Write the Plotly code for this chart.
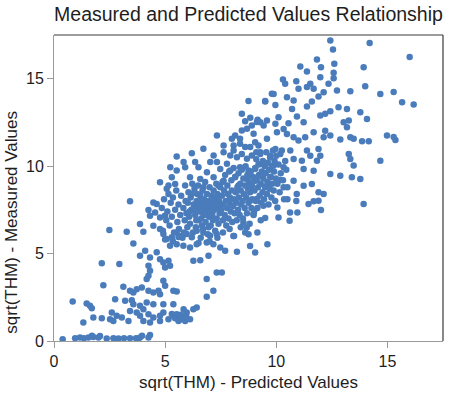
import plotly.graph_objects as go

# ---- data ----
# points near zero measured value
bottom_x = [0.39,0.95,1.17,1.35,1.55,1.71,1.77,2.00,2.07,2.37,2.67,2.75,2.90,3.15,3.42,3.69,3.78,3.87,3.96,4.25,4.32]
bottom_y = [0.10,0.16,0.20,0.16,0.20,0.30,0.23,0.20,0.28,0.14,0.16,0.12,0.14,0.16,0.16,0.16,0.12,0.20,0.30,0.20,0.35]

# lower-left wedge
low_x = [3.87,4.47,4.77,4.92,5.07,5.30,5.52,5.75,5.97,6.20,6.42,6.72,7.02,7.32,5.22,5.52,5.82,6.12,6.42,6.87,7.17,
         2.49,3.27,4.02,3.57,4.10,4.62,3.87,4.32,4.77,4.92,5.15,5.22,5.00,4.25,4.32,4.25,4.17,6.27,6.95,7.32,6.87,
         2.94,2.15,2.22,3.12,3.42,3.72,3.57,3.95,4.25,4.47,4.70,4.77,4.92,5.00,5.37,5.52,2.75,3.20,3.50,3.57,3.87,
         4.17,4.47,4.92,5.37,7.17,6.87,0.84,1.47,1.62,1.70,1.77,2.15,2.52,2.60,2.82,3.05,3.35,3.42,3.72,3.87,4.02,
         4.25,4.47,4.77,4.92,5.15,5.37,5.52,5.67,5.82,5.97,6.12,6.27,6.42,1.32,2.67,4.02,4.32,4.77,5.60,5.75,5.90,
         5.45,5.70,5.95,5.30,5.83]
low_y = [6.69,6.59,6.40,6.12,5.83,5.93,6.21,6.02,6.12,5.93,6.31,6.21,6.02,6.12,5.45,5.54,5.45,5.35,5.54,5.64,5.54,
         6.35,6.25,6.25,5.58,5.16,5.07,4.87,4.78,4.68,4.49,4.59,4.30,4.21,4.30,4.02,3.73,3.54,4.59,4.87,3.92,3.54,
         4.40,4.45,3.19,3.10,2.87,2.96,2.77,3.06,2.87,2.77,2.87,2.68,3.44,3.16,2.87,2.83,2.39,2.30,2.33,2.10,2.01,
         2.20,2.10,2.10,2.10,2.87,2.53,2.26,2.14,2.01,1.88,1.34,1.30,1.25,1.63,1.44,1.34,1.15,1.72,1.63,1.44,1.82,
         1.53,1.34,1.44,1.63,1.25,1.44,1.53,1.34,1.44,1.63,1.25,1.82,1.91,1.06,1.15,1.15,1.06,1.15,1.15,1.25,1.15,
         1.30,1.50,1.40,1.55,1.82]

# left edge of the main band
mid_x = [3.42,4.62,4.25,4.32,4.47,4.55,4.99,4.77]
mid_y = [7.99,7.83,7.49,7.16,7.92,7.35,7.16,7.07]

# below the band, right of x=7.5
rlow_x = [7.48,7.70,8.23,9.05,9.60,8.82,9.15,8.75,8.07,8.67,8.52,8.97,9.50,9.42,10.05,10.10,10.60,10.62,10.95,10.92,
          10.50,10.90,11.45,9.12,8.82,7.55,6.58,11.90,12.13,11.68,11.90,12.01,13.93]
rlow_y = [5.35,5.16,5.10,5.06,5.54,5.44,6.20,6.11,6.01,6.49,6.78,7.26,7.03,7.73,7.64,7.06,6.88,7.35,7.35,8.40,
          8.10,8.00,7.83,8.12,8.02,3.92,4.62,8.50,8.40,7.99,8.02,7.49,7.83]

# above the band, left part
uleft_x = [8.75,9.50,9.80,8.45,8.83,8.60,9.16,8.90,8.45,8.68,8.98,9.13,8.15,7.33,8.00,8.37,7.63,8.08,8.37,8.60,8.83,
           9.05,9.20,6.72,7.18,7.63,7.93,8.08,8.23,8.45,8.68,8.90,9.10,5.52,6.20,5.83,6.35,7.03,7.33,7.78,5.23,5.52,
           5.90,6.50,6.88,7.48,7.93,8.37,8.75,9.05,6.12,6.58,7.18,7.63,8.15,8.68,9.05,5.45,5.90,6.72,7.40,8.30,8.83,
           4.77,5.07,5.15,5.30]
uleft_y = [13.72,13.72,14.14,13.00,12.77,12.57,12.65,12.33,12.04,12.14,11.85,12.52,11.75,11.75,11.56,11.56,11.18,11.18,
           11.28,11.09,11.09,11.37,11.18,10.99,10.61,10.80,10.61,10.90,10.51,10.70,10.42,10.61,10.80,10.55,10.74,10.23,
           10.23,10.23,10.23,10.13,9.94,9.75,9.94,9.94,9.65,9.84,9.75,9.94,9.75,9.84,9.37,9.27,9.37,9.17,9.37,9.27,9.17,
           8.98,8.89,8.79,8.89,8.89,8.79,9.08,8.70,8.89,9.37]

# upper right part
uright_x = [12.43,14.20,12.55,11.83,12.61,11.08,12.01,13.93,11.38,12.58,12.58,11.98,10.30,10.90,10.40,12.35,11.53,11.68,
            11.38,11.00,12.73,13.33,14.00,14.68,9.88,10.48,10.78,12.13,11.90,11.60,9.50,9.96,10.71,11.38,12.80,13.18,
            13.78,11.98,12.20,12.43,14.08,10.93,10.10,9.58,9.28,9.43,9.96,10.33,10.55,11.23,13.03,13.26,13.18,11.68,
            12.20,12.43,12.13,14.98,9.58,10.03,10.48,10.78,11.00,11.30,12.88,13.33,13.48,13.86,14.16,9.96,9.28,9.73,
            10.18,10.63,11.38,11.53,11.90,11.98,10.78,11.15,11.83,13.26,13.33,13.48,14.68,9.28,9.88,10.33,11.23,11.68,
            12.43,12.88,13.40,13.78,9.28,9.73,10.18,10.78,11.23,11.60,9.58,10.33,
            16.00,15.28,15.66,16.18,15.28,15.36]
uright_y = [17.19,17.04,16.67,16.10,15.85,15.70,15.66,15.66,15.41,15.34,15.03,15.09,14.96,14.86,14.71,14.71,14.71,14.42,
            14.52,14.42,14.33,14.29,14.57,14.13,14.13,13.94,13.75,14.23,13.98,13.69,13.69,13.50,13.27,13.41,13.37,13.27,
            13.08,12.89,12.99,13.14,12.70,12.84,12.80,12.61,12.51,12.32,12.42,12.13,12.45,12.51,12.51,12.61,12.22,11.94,
            12.03,11.75,11.65,11.75,11.56,11.94,11.84,11.65,11.46,11.65,11.52,11.65,11.56,11.42,11.42,10.98,10.79,10.60,
            10.70,10.89,10.89,10.60,10.98,10.60,10.41,10.31,10.31,10.70,10.41,10.03,10.31,10.12,10.03,9.93,9.84,9.74,
            9.55,9.45,9.36,9.26,9.45,9.36,9.21,9.17,8.88,8.98,8.88,8.79,
            16.24,14.24,13.66,13.53,11.66,11.50]

# dense core of the cloud
core_x = [4.85,4.95,5.05,5.10,5.15,5.20,5.25,5.30,5.35,5.40,5.45,5.50,5.55,5.60,5.62,5.68,5.72,5.78,5.82,5.88,5.92,5.96,
          6.00,4.90,5.00,5.35,5.60,5.85,
          6.02,6.05,6.08,6.12,6.15,6.18,6.22,6.25,6.28,6.32,6.35,6.38,6.42,6.45,6.48,6.52,6.55,6.58,6.60,6.62,6.65,6.68,
          6.70,6.72,6.75,6.78,6.80,6.82,6.85,6.88,6.90,6.92,6.95,6.98,7.00,7.02,7.05,7.08,7.10,7.12,7.15,7.18,7.20,7.22,
          7.25,7.28,7.30,7.32,7.35,7.38,7.40,7.42,7.45,7.48,6.10,6.30,6.40,6.50,6.60,6.70,6.80,6.90,7.00,7.10,7.20,7.30,
          7.40,6.20,6.45,6.65,6.95,7.15,
          7.52,7.55,7.58,7.60,7.62,7.65,7.68,7.70,7.72,7.75,7.78,7.80,7.82,7.85,7.88,7.90,7.92,7.95,7.98,8.00,8.02,8.05,
          8.08,8.10,8.12,8.15,8.18,8.20,8.22,8.25,8.28,8.30,8.32,8.35,8.38,8.40,8.42,8.45,8.48,8.50,8.52,8.55,8.58,8.60,
          8.62,8.65,8.68,8.70,8.72,8.75,8.78,8.80,8.82,8.85,8.88,8.90,8.92,8.95,8.98,
          9.02,9.05,9.08,9.10,9.12,9.15,9.18,9.20,9.22,9.25,9.28,9.30,9.32,9.35,9.38,9.40,9.42,9.45,9.48,9.50,9.52,9.55,
          9.58,9.60,9.62,9.65,9.68,9.70,9.72,9.75,9.78,9.80,9.82,9.85,9.88,9.90,9.92,9.95,9.98,10.00,10.05,10.10,10.15,
          10.20,10.25,10.30,10.35,10.40,10.45,10.50,
          7.60,7.90,8.10,8.40,7.35,7.00,6.50,8.60,9.30,9.00]
core_y = [7.6,8.1,6.9,7.4,8.4,6.6,7.9,7.1,8.2,6.2,7.5,8.6,6.8,7.8,6.4,7.2,8.3,5.9,7.6,6.9,8.0,7.3,
          6.5,6.3,5.8,5.7,5.95,6.2,
          7.9,8.5,7.1,6.7,8.2,7.5,9.0,6.2,7.8,8.7,7.2,6.5,8.0,7.6,8.9,6.9,7.4,8.3,5.9,7.0,7.9,8.6,
          6.4,7.6,8.1,7.2,9.1,6.8,7.8,8.4,7.4,6.1,8.0,7.1,8.8,7.6,6.6,8.3,7.9,7.3,6.9,8.6,7.5,8.1,
          6.3,7.8,9.0,7.0,8.4,7.6,6.7,8.0,7.3,8.8,7.4,7.5,6.9,7.7,8.0,7.3,7.5,7.9,7.4,7.7,7.0,8.2,
          7.8,8.4,8.4,6.6,6.5,8.0,
          7.5,8.3,9.1,6.9,7.8,8.6,7.2,9.5,8.0,6.6,7.6,8.9,8.4,7.0,9.7,7.9,8.2,7.4,9.2,8.6,6.8,7.7,
          9.9,8.1,7.3,9.4,8.5,7.9,6.9,8.8,7.5,9.6,8.2,7.2,9.0,8.6,7.8,9.8,8.0,7.0,9.3,8.4,7.6,8.9,
          10.0,8.2,7.3,9.5,8.7,7.9,9.1,6.7,8.5,9.7,7.6,8.9,8.1,9.4,7.2,
          8.6,9.9,8.0,10.4,9.2,7.6,8.8,10.1,9.5,8.3,10.7,9.0,7.9,9.7,8.5,10.3,9.3,8.1,10.0,8.8,9.6,10.8,
          8.4,9.1,10.2,7.8,9.8,8.7,10.5,9.4,8.2,10.0,9.0,10.9,8.6,9.7,10.3,8.0,9.3,10.6,9.0,10.1,8.5,
          9.6,10.9,9.2,8.1,10.3,9.8,8.8,
          6.2,6.4,6.0,6.5,5.9,5.7,5.6,6.2,6.9,7.4]

x_tick_vals = [0, 5, 10, 15]
y_tick_vals = [0, 5, 10, 15]

xs = bottom_x + low_x + mid_x + rlow_x + uleft_x + uright_x + core_x
ys = bottom_y + low_y + mid_y + rlow_y + uleft_y + uright_y + core_y

FONT = "Liberation Sans, Arial, sans-serif"
TXT = "#1e1e1e"

fig = go.Figure(go.Scatter(
    x=xs, y=ys, mode="markers",
    marker=dict(size=6.5, color="#4a7cbb", line=dict(width=0)),
    hoverinfo="skip", showlegend=False))

fig.update_layout(
    width=464, height=397,
    margin=dict(l=54, r=21, t=35, b=56),
    paper_bgcolor="white", plot_bgcolor="white",
    font=dict(family=FONT, color=TXT, size=16),
    title=dict(text="Measured and Predicted Values Relationship",
               x=0.5, xref="paper", xanchor="center",
               y=1 - 14 / 397, yref="container", yanchor="middle",
               font=dict(family=FONT, size=19.5, color=TXT)),
    xaxis=dict(range=[0, 17.5], tickvals=x_tick_vals, showgrid=False, zeroline=False,
               automargin=False,
               showline=True, linecolor="#9a9a9a", linewidth=1,
               ticks="outside", ticklen=6, tickcolor="#9a9a9a",
               tickfont=dict(size=16, color=TXT),
               title=dict(text="sqrt(THM) - Predicted Values", font=dict(size=17, color=TXT), standoff=6)),
    yaxis=dict(range=[0, 17.5], tickvals=y_tick_vals, showgrid=False, zeroline=False,
               automargin=False,
               showline=True, linecolor="#9a9a9a", linewidth=1,
               ticks="outside", ticklen=6, tickcolor="#9a9a9a",
               tickfont=dict(size=16, color=TXT)),
    annotations=[dict(text="sqrt(THM) - Measured Values", textangle=-90,
                      xref="paper", yref="paper", x=-0.108, y=0.39,
                      xanchor="center", yanchor="middle", showarrow=False,
                      font=dict(family=FONT, size=17, color=TXT))],
    shapes=[
        dict(type="line", xref="paper", yref="paper", x0=0, x1=1, y0=1, y1=1,
             line=dict(color="#3a3a3a", width=1.2)),
        dict(type="line", xref="paper", yref="paper", x0=1, x1=1, y0=0, y1=1,
             line=dict(color="#3a3a3a", width=1.2)),
    ],
)

fig.write_html("out.html", config={"displayModeBar": False},
               post_script="document.body.style.margin='0';")
